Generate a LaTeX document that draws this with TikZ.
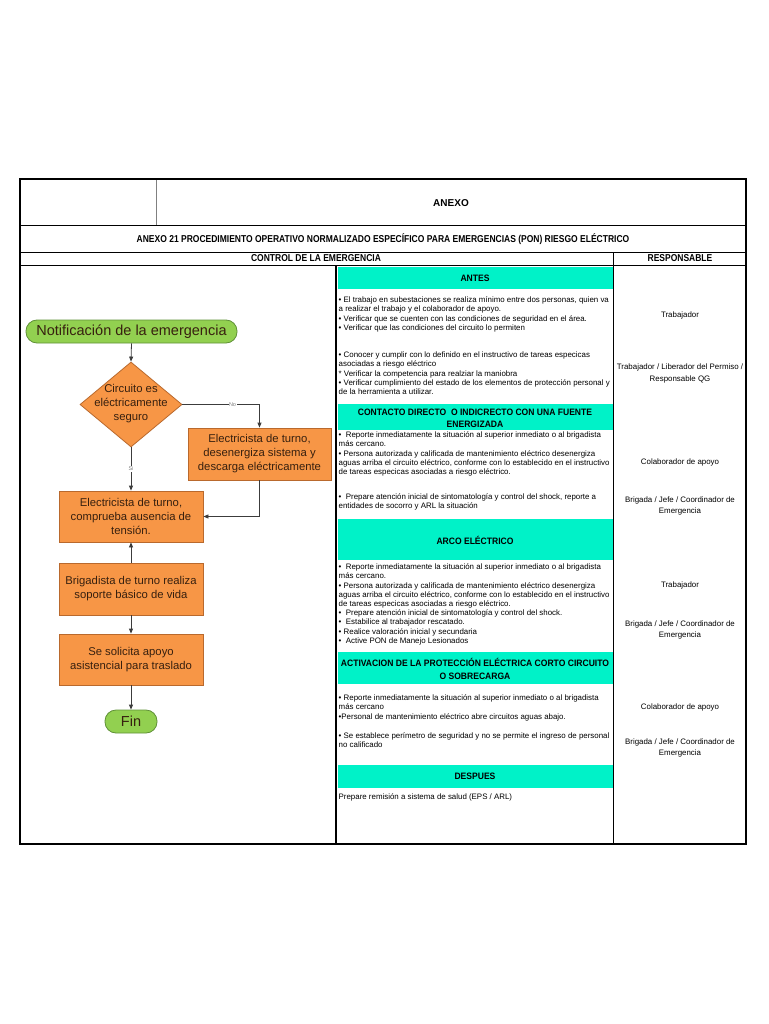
\documentclass[tikz,border=0pt]{standalone}
\usepackage{fontspec}
\setmainfont{Liberation Sans}
\newfontfamily\narrowb[FakeStretch=0.85]{Liberation Sans}
\newfontfamily\semib[FakeStretch=0.92]{Liberation Sans}
\usetikzlibrary{shapes.geometric,arrows.meta}
\definecolor{cyanhdr}{RGB}{0,242,200}
\definecolor{orfill}{RGB}{247,150,70}
\definecolor{ordraw}{RGB}{185,105,45}
\definecolor{grfill}{RGB}{146,208,80}
\definecolor{grdraw}{RGB}{95,145,55}
\definecolor{flowtxt}{RGB}{55,32,15}
\definecolor{conncol}{RGB}{60,60,60}
\begin{document}
\begin{tikzpicture}[x=1pt,y=-1pt,
  procbox/.style={draw=ordraw, fill=orfill, line width=0.8pt, minimum width=144pt, minimum height=51pt, align=center, inner sep=0, text=flowtxt, font=\fontsize{11.3}{14}\selectfont},
  termbox/.style={draw=grdraw, fill=grfill, line width=0.8pt, rounded corners=11pt, minimum height=23pt, inner sep=0, text=flowtxt, font=\fontsize{14.5}{16}\selectfont},
  decbox/.style={diamond, draw=ordraw, fill=orfill, line width=0.8pt, minimum width=102pt, minimum height=85pt, inner sep=0},
  dectext/.style={align=center, inner sep=0, text=flowtxt, font=\fontsize{11.3}{14}\selectfont},
  conn/.style={draw=conncol, line width=0.8pt, -{Triangle[length=5pt,width=4pt]}},
  lbl/.style={fill=white, inner sep=0.5pt, text=gray, font=\fontsize{5.5}{6}\selectfont},
  body/.style={anchor=north west, align=left, inner sep=0, font=\fontsize{7.9}{9.2}\selectfont},
  resp/.style={align=center, inner sep=0, font=\fontsize{7.9}{11.5}\selectfont},
  cyhdr/.style={align=center, inner sep=0, font=\semib\bfseries\fontsize{9.3}{12.5}\selectfont},
  tblhdr/.style={inner sep=0, font=\narrowb\bfseries\fontsize{10}{11}\selectfont},
  cyfill/.style={fill=cyanhdr}
]
\useasboundingbox (0,0) rectangle (768,1024);
\fill[white] (0,0) rectangle (768,1024);

% cyan header bands
\fill[cyfill] (338,267) rectangle (613,289);
\fill[cyfill] (338,404) rectangle (613,430);
\fill[cyfill] (338,519) rectangle (613,560);
\fill[cyfill] (338,652) rectangle (613,684);
\fill[cyfill] (338,765) rectangle (613,788);

% table lines
\draw[line width=0.8pt, gray] (156,179) -- (156,226);
\draw[line width=1pt] (20,226) -- (746,226);
\draw[line width=1pt] (20,252) -- (746,252);
\draw[line width=1pt] (20,265) -- (746,265);
\draw[line width=1pt] (613,252) -- (613,844);
\draw[line width=1.2pt] (336,265) -- (336,844);
\draw[line width=1.6pt] (20,179) rectangle (746,844);

% table headers
\node[tblhdr, font=\bfseries\fontsize{10}{11}\selectfont] (anexo) at (451,203) {ANEXO};
\node[tblhdr] (titulo) at (383,239) {ANEXO 21 PROCEDIMIENTO OPERATIVO NORMALIZADO ESPECÍFICO PARA EMERGENCIAS (PON) RIESGO ELÉCTRICO};
\node[tblhdr] (control) at (316,258.5) {CONTROL DE LA EMERGENCIA};
\node[tblhdr] (respons) at (680,258.5) {RESPONSABLE};

% cyan header texts
\node[cyhdr] (hantes) at (475,278) {ANTES};
\node[cyhdr] (hcontacto) at (475,418.5) {CONTACTO DIRECTO \ O INDICRECTO CON UNA FUENTE\\ENERGIZADA};
\node[cyhdr] (harco) at (475,540) {ARCO ELÉCTRICO};
\node[cyhdr] (hactiv) at (475,669) {ACTIVACION DE LA PROTECCIÓN ELÉCTRICA CORTO CIRCUITO\\O SOBRECARGA};
\node[cyhdr] (hdespues) at (475,776) {DESPUES};

% body texts
\node[body] (a1) at (338.5,296) {\strut• El trabajo en subestaciones se realiza mínimo entre dos personas, quien va\\a realizar el trabajo y el colaborador de apoyo.\\• Verificar que se cuenten con las condiciones de seguridad en el área.\\• Verificar que las condiciones del circuito lo permiten};
\node[body] (a2) at (338.5,351) {\strut• Conocer y cumplir con lo definido en el instructivo de tareas especicas\\asociadas a riesgo eléctrico\\* Verificar la competencia para realziar la maniobra\\• Verificar cumplimiento del estado de los elementos de protección personal y\\de la herramienta a utilizar.};
\node[body] (c1) at (338.5,431) {\strut• \ Reporte inmediatamente la situación al superior inmediato o al brigadista\\más cercano.\\• Persona autorizada y calificada de mantenimiento eléctrico desenergiza\\aguas arriba el circuito eléctrico, conforme con lo establecido en el instructivo\\de tareas especicas asociadas a riesgo eléctrico.};
\node[body] (c2) at (338.5,493) {\strut• \ Prepare atención inicial de sintomatología y control del shock, reporte a\\entidades de socorro y ARL la situación};
\node[body] (r1) at (338.5,563) {\strut• \ Reporte inmediatamente la situación al superior inmediato o al brigadista\\más cercano.\\• Persona autorizada y calificada de mantenimiento eléctrico desenergiza\\aguas arriba el circuito eléctrico, conforme con lo establecido en el instructivo\\de tareas especicas asociadas a riesgo eléctrico.\\• \ Prepare atención inicial de sintomatología y control del shock.\\• \ Estabilice al trabajador rescatado.\\• Realice valoración inicial y secundaria\\• \ Active PON de Manejo Lesionados};
\node[body] (p1) at (338.5,694) {\strut• Reporte inmediatamente la situación al superior inmediato o al brigadista\\más cercano\\•Personal de mantenimiento eléctrico abre circuitos aguas abajo.};
\node[body] (p2) at (338.5,732) {\strut• Se establece perímetro de seguridad y no se permite el ingreso de personal\\no calificado};
\node[body] (d1) at (338.5,793) {\strut Prepare remisión a sistema de salud (EPS / ARL)};

% responsable texts
\node[resp] (s1) at (680,315) {Trabajador};
\node[resp] (s2) at (680,373.5) {Trabajador / Liberador del Permiso /\\Responsable QG};
\node[resp] (s3) at (680,462) {Colaborador de apoyo};
\node[resp] (s4) at (680,506) {Brigada / Jefe / Coordinador de\\Emergencia};
\node[resp] (s5) at (680,585) {Trabajador};
\node[resp] (s6) at (680,630) {Brigada / Jefe / Coordinador de\\Emergencia};
\node[resp] (s7) at (680,707) {Colaborador de apoyo};
\node[resp] (s8) at (680,748) {Brigada / Jefe / Coordinador de\\Emergencia};

% flowchart
\node[termbox, minimum width=211pt] (notif) at (131.5,331.5) {Notificación de la emergencia};
\node[decbox] (dia) at (131,404.5) {};
\node[dectext] (diatext) at (131,404) {Circuito es\\eléctricamente\\seguro};
\node[procbox, minimum width=143pt, minimum height=52pt] (b1) at (259.5,454) {Electricista de turno,\\desenergiza sistema y\\descarga eléctricamente};
\node[procbox] (b2) at (131,516.5) {Electricista de turno,\\comprueba ausencia de\\tensión.};
\node[procbox, minimum height=52pt] (brig) at (131,589) {Brigadista de turno realiza\\soporte básico de vida};
\node[procbox] (sol) at (131,659.5) {Se solicita apoyo\\asistencial para traslado};
\node[termbox, minimum width=52pt] (fin) at (131,721.5) {Fin};

\draw[conn] (notif.south) -- (dia.north);
\draw[conn] (dia.east) -- node[lbl, pos=0.65] {No} (dia.east -| b1.north) -- (b1.north);
\draw[conn] (dia.south) -- node[lbl, pos=0.5] {Si} (b2.north);
\draw[conn] (b1.south) |- (b2.east);
\draw[conn] (brig.north) -- (b2.south);
\draw[conn] (brig.south) -- (sol.north);
\draw[conn] (sol.south) -- (fin.north);
\end{tikzpicture}
\end{document}
